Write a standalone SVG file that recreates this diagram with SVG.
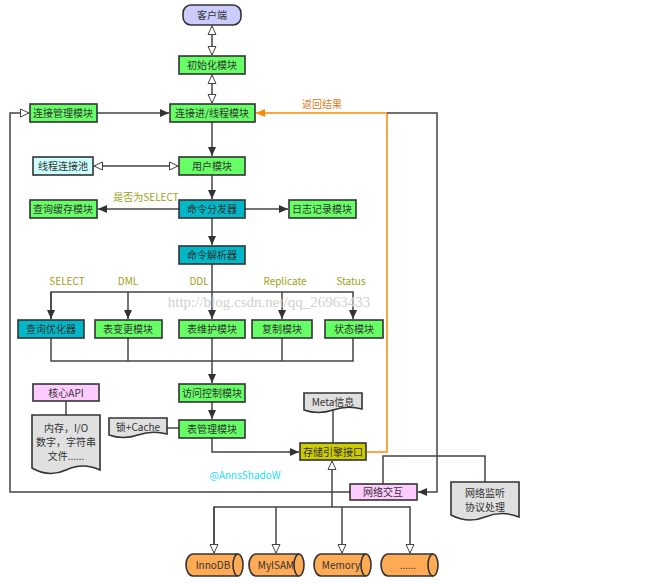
<svg xmlns="http://www.w3.org/2000/svg" width="658" height="584" viewBox="0 0 658 584">
<defs>
<style>
.b{stroke:#333;stroke-width:1.6}
.g{fill:#66ff66}.t{fill:#00b8c8}.p{fill:#ffccff}.d{fill:#e0e0e0}.o{fill:#ffaa55}
text{font-family:"Noto Sans CJK SC","Liberation Sans",sans-serif;font-size:10px;fill:#333;text-anchor:middle}
.l{fill:#a0a020}
.c{stroke:#444;stroke-width:1.5;fill:none}
</style>
<marker id="f" markerWidth="10" markerHeight="10" refX="9" refY="5" orient="auto" markerUnits="userSpaceOnUse"><path d="M0,1 L9,5 L0,9 z" fill="#333"/></marker>
<marker id="h" markerWidth="10" markerHeight="10" refX="9" refY="5" orient="auto" markerUnits="userSpaceOnUse"><path d="M0.5,1 L9,5 L0.5,9 z" fill="#fff" stroke="#444"/></marker>
<marker id="hs" markerWidth="10" markerHeight="10" refX="1" refY="5" orient="auto" markerUnits="userSpaceOnUse"><path d="M9.5,1 L1,5 L9.5,9 z" fill="#fff" stroke="#444"/></marker>
<marker id="or" markerWidth="10" markerHeight="10" refX="9" refY="5" orient="auto" markerUnits="userSpaceOnUse"><path d="M0,1 L9,5 L0,9 z" fill="#ff8800"/></marker>
</defs>
<rect width="658" height="584" fill="#fff"/>
<g id="connectors">
<line class="c" x1="212" y1="26" x2="212" y2="55" marker-start="url(#hs)" marker-end="url(#h)"/>
<line class="c" x1="212" y1="75" x2="212" y2="103" marker-start="url(#hs)" marker-end="url(#h)"/>
<line class="c" x1="97" y1="113" x2="169" y2="113" marker-end="url(#f)"/>
<polyline class="c" points="350,492 10,492 10,113 29,113" marker-end="url(#h)"/>
<polyline points="367,452 387,452 387,113 256,113" fill="none" stroke="#ff8800" stroke-width="1.5" marker-end="url(#or)"/>
<polyline class="c" points="387,113 437,113 437,492 418,492" marker-end="url(#f)"/>
<line class="c" x1="212" y1="122" x2="212" y2="156" marker-end="url(#f)"/>
<line class="c" x1="94" y1="166" x2="178" y2="166" marker-start="url(#hs)" marker-end="url(#h)"/>
<line class="c" x1="212" y1="175" x2="212" y2="199" marker-end="url(#f)"/>
<line class="c" x1="179" y1="209" x2="98" y2="209" marker-end="url(#f)"/>
<line class="c" x1="245" y1="209" x2="288" y2="209" marker-end="url(#f)"/>
<line class="c" x1="212" y1="218" x2="212" y2="245" marker-end="url(#f)"/>
<line class="c" x1="212" y1="264" x2="212" y2="319" marker-end="url(#f)"/>
<polyline class="c" points="51,319 51,292 353,292 353,319" marker-end="url(#f)"/>
<line class="c" x1="51" y1="292" x2="51" y2="319" marker-end="url(#f)"/>
<line class="c" x1="128" y1="292" x2="128" y2="319" marker-end="url(#f)"/>
<line class="c" x1="282" y1="292" x2="282" y2="319" marker-end="url(#f)"/>
<polyline class="c" points="51,338 51,361 353,361 353,338"/>
<line class="c" x1="128" y1="338" x2="128" y2="361"/>
<line class="c" x1="282" y1="338" x2="282" y2="361"/>
<line class="c" x1="212" y1="338" x2="212" y2="383" marker-end="url(#f)"/>
<line class="c" x1="212" y1="402" x2="212" y2="419" marker-end="url(#f)"/>
<line class="c" x1="66" y1="401" x2="66" y2="415"/>
<line class="c" x1="167" y1="428" x2="179" y2="428"/>
<line class="c" x1="333" y1="410" x2="333" y2="443"/>
<polyline class="c" points="212,438 212,452 299,452" marker-end="url(#f)"/>
<line class="c" x1="332" y1="507" x2="332" y2="461" marker-end="url(#h)"/>
<polyline class="c" points="214,553 214,507 410,507 410,553" marker-end="url(#h)"/>
<line class="c" x1="214" y1="507" x2="214" y2="553" marker-end="url(#h)"/>
<line class="c" x1="276" y1="507" x2="276" y2="553" marker-end="url(#h)"/>
<line class="c" x1="342" y1="507" x2="342" y2="553" marker-end="url(#h)"/>
<polyline class="c" points="485,482 485,456 383,456 383,484"/>
</g>
<text x="322" y="108" style="fill:#e07a20">返回结果</text>
<text x="146" y="201" class="l">是否为SELECT</text>
<text x="67" y="285" class="l">SELECT</text>
<text x="128" y="285" class="l">DML</text>
<text x="199" y="285" class="l">DDL</text>
<text x="285" y="285" class="l">Replicate</text>
<text x="351" y="285" class="l">Status</text>
<text x="269" y="307" style="font-family:'Liberation Serif',serif;font-size:15px;fill:#d0d0d0">http://blog.csdn.net/qq_26963433</text>
<text x="245" y="479" style="fill:#22ddff">@AnnsShadoW</text>
<g id="client"><rect class="b" x="183" y="5" width="58" height="20" rx="8" fill="#ccccff"/><text x="212" y="19">客户端</text></g>
<g id="init"><rect class="b g" x="179" y="56" width="66" height="18"/><text x="212" y="69">初始化模块</text></g>
<g id="connmgr"><rect class="b g" x="30" y="104" width="67" height="18"/><text x="63" y="117">连接管理模块</text></g>
<g id="connthread"><rect class="b g" x="170" y="104" width="85" height="18"/><text x="212" y="117">连接进/线程模块</text></g>
<g id="pool"><rect class="b" x="33" y="157" width="60" height="18" fill="#ccffff"/><text x="63" y="170">线程连接池</text></g>
<g id="user"><rect class="b g" x="179" y="157" width="66" height="18"/><text x="212" y="170">用户模块</text></g>
<g id="dispatch"><rect class="b t" x="179" y="200" width="66" height="18"/><text x="212" y="213">命令分发器</text></g>
<g id="qcache"><rect class="b g" x="30" y="200" width="67" height="18"/><text x="63" y="213">查询缓存模块</text></g>
<g id="log"><rect class="b g" x="289" y="200" width="67" height="18"/><text x="322" y="213">日志记录模块</text></g>
<g id="parser"><rect class="b t" x="179" y="246" width="66" height="18"/><text x="212" y="259">命令解析器</text></g>
<g id="opt"><rect class="b t" x="18" y="320" width="66" height="18"/><text x="51" y="333">查询优化器</text></g>
<g id="tchange"><rect class="b g" x="95" y="320" width="67" height="18"/><text x="128" y="333">表变更模块</text></g>
<g id="tmaint"><rect class="b g" x="179" y="320" width="66" height="18"/><text x="212" y="333">表维护模块</text></g>
<g id="repl"><rect class="b g" x="252" y="320" width="60" height="18"/><text x="282" y="333">复制模块</text></g>
<g id="status"><rect class="b g" x="325" y="320" width="58" height="18"/><text x="354" y="333">状态模块</text></g>
<g id="access"><rect class="b g" x="179" y="384" width="66" height="18"/><text x="212" y="397">访问控制模块</text></g>
<g id="coreapi"><rect class="b p" x="33" y="384" width="66" height="17"/><text x="66" y="397">核心API</text></g>
<g id="coredoc"><path class="b d" d="M32,415 H100 V470 Q83,462 66,470 Q49,478 32,468 Z"/><text x="66" y="432">内存，I/O</text><text x="66" y="446">数字，字符串</text><text x="66" y="460">文件......</text></g>
<g id="tmgr"><rect class="b g" x="179" y="420" width="66" height="18"/><text x="212" y="433">表管理模块</text></g>
<g id="lock"><path class="b d" d="M109,418 H167 V434 Q152,430 138,435 Q123,440 109,435 Z"/><text x="138" y="431">锁+Cache</text></g>
<g id="meta"><path class="b d" d="M304,393 H362 V409 Q347,405 333,410 Q318,415 304,410 Z"/><text x="333" y="406">Meta信息</text></g>
<g id="engine"><rect class="b" x="300" y="443" width="66" height="17" fill="#cccc00"/><text x="333" y="456">存储引擎接口</text></g>
<g id="net"><rect class="b p" x="350" y="484" width="67" height="16"/><text x="383" y="496">网络交互</text></g>
<g id="listen"><path class="b d" d="M451,482 H519 V517 Q502,510 485,517 Q468,524 451,515 Z"/><text x="485" y="497">网络监听</text><text x="485" y="511">协议处理</text></g>
<g id="innodb"><path class="b o" d="M193,554 H238 A5,11 0 0 1 238,576 H193 A7,11 0 0 1 193,554 Z"/><path class="b" fill="none" d="M238,554 A5,11 0 0 0 238,576"/><text x="213" y="569">InnoDB</text></g>
<g id="myisam"><path class="b o" d="M256,554 H299 A5,11 0 0 1 299,576 H256 A7,11 0 0 1 256,554 Z"/><path class="b" fill="none" d="M299,554 A5,11 0 0 0 299,576"/><text x="276" y="569">MyISAM</text></g>
<g id="memory"><path class="b o" d="M321,554 H366 A5,11 0 0 1 366,576 H321 A7,11 0 0 1 321,554 Z"/><path class="b" fill="none" d="M366,554 A5,11 0 0 0 366,576"/><text x="341" y="569">Memory</text></g>
<g id="more"><path class="b o" d="M388,554 H433 A5,11 0 0 1 433,576 H388 A7,11 0 0 1 388,554 Z"/><path class="b" fill="none" d="M433,554 A5,11 0 0 0 433,576"/><text x="408" y="569">......</text></g>
</svg>
